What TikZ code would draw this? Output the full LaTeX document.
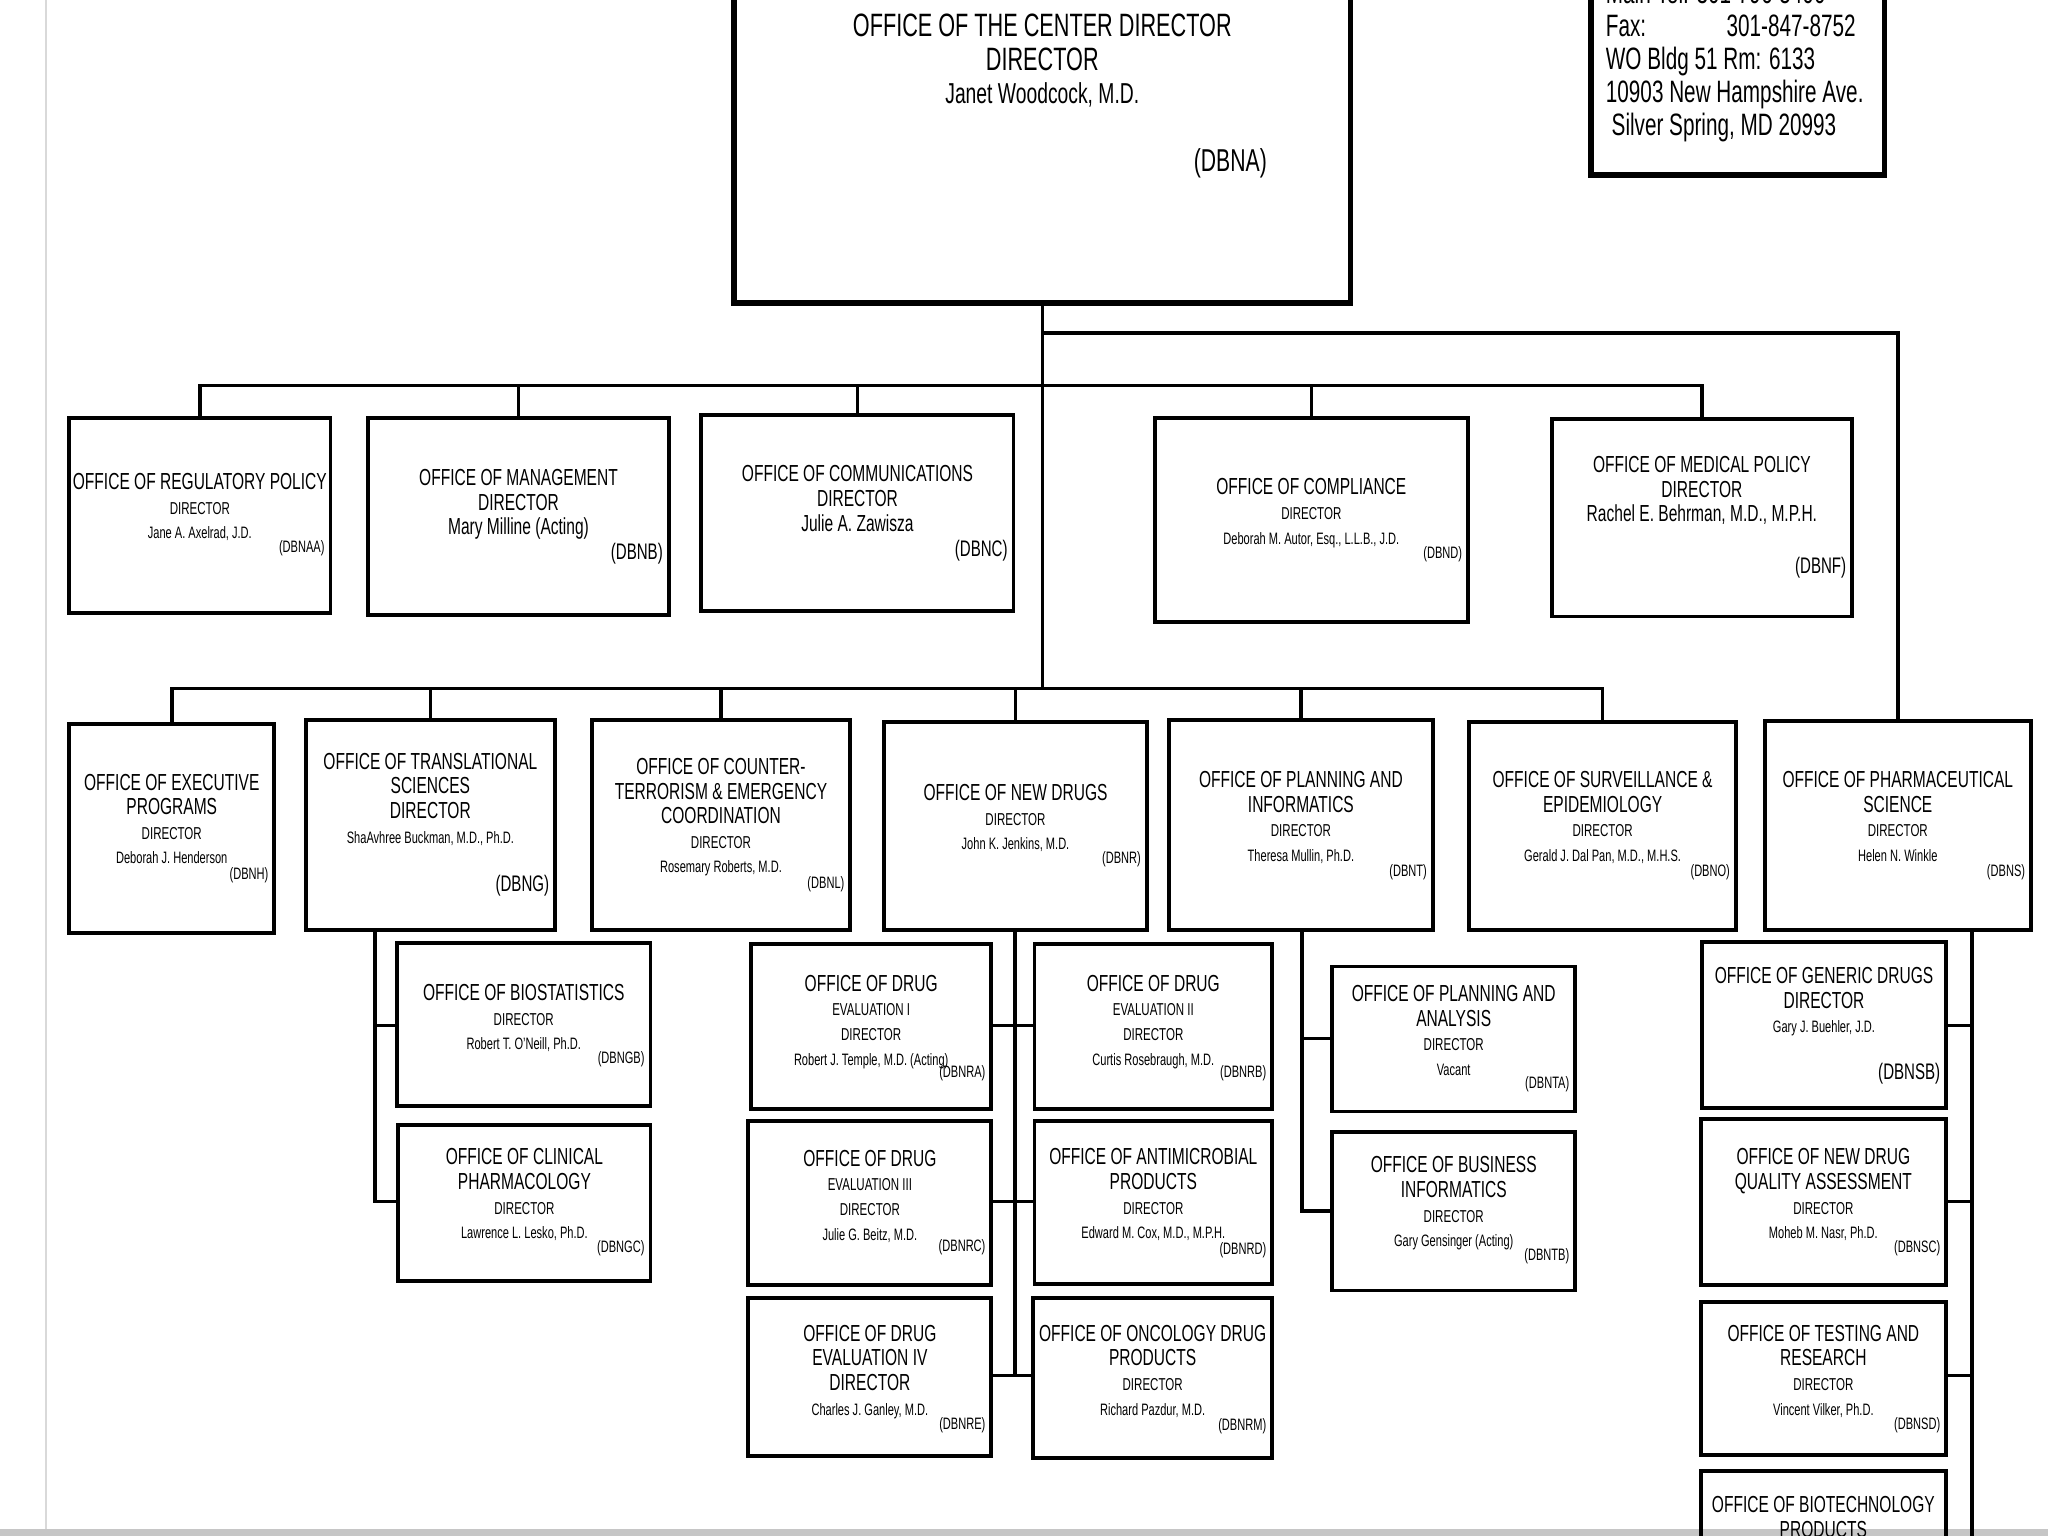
\documentclass[tikz,border=0pt]{standalone}
\usepackage{fontspec}
\setmainfont{Liberation Sans}[FakeStretch=0.67]
\usetikzlibrary{fit}
\newcommand{\T}{\fontsize{6.6}{7}\selectfont}
\newcommand{\Ds}{\fontsize{4.9}{6.4}\selectfont}
\newcommand{\Nm}{\fontsize{4.7}{6.4}\selectfont}
\newcommand{\Cs}{\fontsize{4.7}{6}\selectfont}
\newcommand{\Cb}{\fontsize{6.4}{7}\selectfont}
% \bx{name}{x1}{y1}{x2}{y2}{texttop}{text}{codey}{code}
\newcommand{\bx}[9]{%
  \node[box, fit={(#2,#3) (#4,#5)}] (#1) {};
  \node[txt, anchor=north] (#1-t) at ({(#2+#4)/2},#6) {#7};
  \node[code, anchor=east] (#1-c) at ({#4-4},#8) {#9};
}
\begin{document}
\begin{tikzpicture}[x=0.013061cm,y=-0.013061cm,
  box/.style={draw, line width=1.1pt, inner sep=0pt},
  txt/.style={align=center, inner sep=0pt, font=\T},
  code/.style={inner sep=0pt, font=\Cs},
  link/.style={line width=1pt}]
\useasboundingbox (0,0) rectangle (1568,1176);
\clip (0,0) rectangle (1568,1176);
\fill[gray!45] (0,1171) rectangle (1568,1176);
\draw[gray!30, line width=0.5pt] (35,0) -- (35,1171);

% center
\node[box, line width=1.5pt, fit={(562,-10) (1034,232)}] (ctr) {};
\node[txt, anchor=north, font=\fontsize{9.2}{9.6}\selectfont] (ctr-t) at (798,10)
  {OFFICE OF THE CENTER DIRECTOR\\DIRECTOR\\{\fontsize{8.2}{9.6}\selectfont Janet Woodcock, M.D.}};
\node[anchor=center, inner sep=0pt, font=\fontsize{9}{10}\selectfont] (ctr-c) at (942,125) {(DBNA)};

% address
\node[box, line width=1.5pt, fit={(1218,-10) (1443,134)}] (addr) {};
\node[anchor=north west, align=left, inner sep=0pt, font=\fontsize{8.8}{9.4}\selectfont] (addr-t) at (1229,-15)
  {Main Tel: 301-796-5400\\Fax:\hspace{2.6em}301-847-8752\\WO Bldg 51 Rm: 6133\\10903 New Hampshire Ave.\\\ Silver Spring, MD 20993};

% row 1
\bx{reg}{53}{320}{253}{469}{362}{OFFICE OF REGULATORY POLICY\\\Ds DIRECTOR\\\Nm Jane A. Axelrad, J.D.}{420}{(DBNAA)}
\bx{mgt}{282}{320}{512}{471}{359}{OFFICE OF MANAGEMENT\\DIRECTOR\\Mary Milline (Acting)}{424}{\Cb(DBNB)}
\bx{com}{537}{318}{776}{468}{356}{OFFICE OF COMMUNICATIONS\\DIRECTOR\\Julie A. Zawisza}{422}{\Cb(DBNC)}
\bx{cmp}{884}{320}{1124}{476}{366}{OFFICE OF COMPLIANCE\\\Ds DIRECTOR\\\Nm Deborah M. Autor, Esq., L.L.B., J.D.}{424}{(DBND)}
\bx{mpol}{1188}{321}{1418}{472}{349}{OFFICE OF MEDICAL POLICY\\DIRECTOR\\Rachel E. Behrman, M.D., M.P.H.}{435}{\Cb(DBNF)}

% row 2
\bx{exe}{53}{554}{210}{714}{592}{OFFICE OF EXECUTIVE\\PROGRAMS\\\Ds DIRECTOR\\\Nm Deborah J. Henderson}{670}{(DBNH)}
\bx{trn}{234}{551}{425}{712}{576}{OFFICE OF TRANSLATIONAL\\SCIENCES\\DIRECTOR\\\Nm ShaAvhree Buckman, M.D., Ph.D.}{678}{\Cb(DBNG)}
\bx{ctr2}{453}{551}{651}{712}{580}{OFFICE OF COUNTER-\\TERRORISM \& EMERGENCY\\COORDINATION\\\Ds DIRECTOR\\\Nm Rosemary Roberts, M.D.}{677}{(DBNL)}
\bx{nd}{677}{553}{878}{712}{600}{OFFICE OF NEW DRUGS\\\Ds DIRECTOR\\\Nm John K. Jenkins, M.D.}{658}{(DBNR)}
\bx{pli}{895}{551}{1097}{712}{590}{OFFICE OF PLANNING AND\\INFORMATICS\\\Ds DIRECTOR\\\Nm Theresa Mullin, Ph.D.}{668}{(DBNT)}
\bx{sur}{1125}{553}{1329}{712}{590}{OFFICE OF SURVEILLANCE \&\\EPIDEMIOLOGY\\\Ds DIRECTOR\\\Nm Gerald J. Dal Pan, M.D., M.H.S.}{668}{(DBNO)}
\bx{phs}{1351}{552}{1555}{712}{590}{OFFICE OF PHARMACEUTICAL\\SCIENCE\\\Ds DIRECTOR\\\Nm Helen N. Winkle}{668}{(DBNS)}

% translational children
\bx{bio}{304}{722}{498}{847}{753}{OFFICE OF BIOSTATISTICS\\\Ds DIRECTOR\\\Nm Robert T. O'Neill, Ph.D.}{811}{(DBNGB)}
\bx{clp}{305}{861}{498}{981}{879}{OFFICE OF CLINICAL\\PHARMACOLOGY\\\Ds DIRECTOR\\\Nm Lawrence L. Lesko, Ph.D.}{956}{(DBNGC)}

% new drugs children
\bx{ode1}{575}{723}{759}{849}{746}{OFFICE OF DRUG\\\Ds EVALUATION I\\\Ds DIRECTOR\\\Nm Robert J. Temple, M.D. (Acting)}{822}{(DBNRA)}
\bx{ode2}{792}{723}{974}{849}{746}{OFFICE OF DRUG\\\Ds EVALUATION II\\\Ds DIRECTOR\\\Nm Curtis Rosebraugh, M.D.}{822}{(DBNRB)}
\bx{ode3}{573}{858}{759}{984}{880}{OFFICE OF DRUG\\\Ds EVALUATION III\\\Ds DIRECTOR\\\Nm Julie G. Beitz, M.D.}{955}{(DBNRC)}
\bx{amp}{792}{858}{974}{983}{879}{OFFICE OF ANTIMICROBIAL\\PRODUCTS\\\Ds DIRECTOR\\\Nm Edward M. Cox, M.D., M.P.H.}{957}{(DBNRD)}
\bx{ode4}{573}{994}{759}{1115}{1014}{OFFICE OF DRUG\\EVALUATION IV\\DIRECTOR\\\Nm Charles J. Ganley, M.D.}{1091}{(DBNRE)}
\bx{onc}{791}{994}{974}{1116}{1014}{OFFICE OF ONCOLOGY DRUG\\PRODUCTS\\\Ds DIRECTOR\\\Nm Richard Pazdur, M.D.}{1092}{(DBNRM)}

% planning children
\bx{pa}{1020}{740}{1206}{851}{754}{OFFICE OF PLANNING AND\\ANALYSIS\\\Ds DIRECTOR\\\Nm Vacant}{830}{(DBNTA)}
\bx{bi}{1020}{867}{1206}{988}{885}{OFFICE OF BUSINESS\\INFORMATICS\\\Ds DIRECTOR\\\Nm Gary Gensinger (Acting)}{962}{(DBNTB)}

% pharm sci children
\bx{gen}{1303}{721}{1490}{848}{740}{OFFICE OF GENERIC DRUGS\\DIRECTOR\\\Nm Gary J. Buehler, J.D.}{822}{\Cb(DBNSB)}
\bx{ndq}{1302}{857}{1490}{984}{879}{OFFICE OF NEW DRUG\\QUALITY ASSESSMENT\\\Ds DIRECTOR\\\Nm Moheb M. Nasr, Ph.D.}{956}{(DBNSC)}
\bx{tst}{1302}{997}{1490}{1114}{1014}{OFFICE OF TESTING AND\\RESEARCH\\\Ds DIRECTOR\\\Nm Vincent Vilker, Ph.D.}{1091}{(DBNSD)}
\node[box, fit={(1302,1126) (1490,1200)}] (bt) {};
\node[txt, anchor=north] (bt-t) at (1396,1145) {OFFICE OF BIOTECHNOLOGY\\PRODUCTS};

% connectors
\draw[link] (ctr.south) -- (ctr.south |- 0,527);
\draw[link] (ctr.south |- 0,255) -| (phs.north);
\draw[link] (reg.north) |- (mpol.north |- 0,295) -- (mpol.north);
\foreach \n in {mgt,com,cmp} \draw[link] (\n.north) -- (\n.north |- 0,295);
\draw[link] (exe.north) |- (sur.north |- 0,527) -- (sur.north);
\foreach \n in {trn,ctr2,nd,pli} \draw[link] (\n.north) -- (\n.north |- 0,527);
% translational
\draw[link] (trn.south -| 287,0) |- (clp.west |- 0,920);
\draw[link] (287,785) -- (bio.west |- 0,785);
% new drugs
\draw[link] (nd.south -| 777,0) -- (777,1053);
\draw[link] (ode1.east |- 0,785) -- (ode2.west |- 0,785);
\draw[link] (ode3.east |- 0,920) -- (amp.west |- 0,920);
\draw[link] (ode4.east |- 0,1053) -- (onc.west |- 0,1053);
% planning
\draw[link] (pli.south -| 997,0) |- (bi.west |- 0,927);
\draw[link] (997,795) -- (pa.west |- 0,795);
% pharm sci
\draw[link] (phs.south -| 1510,0) -- (1510,1176);
\draw[link] (gen.east |- 0,785) -- (1510,785);
\draw[link] (ndq.east |- 0,920) -- (1510,920);
\draw[link] (tst.east |- 0,1053) -- (1510,1053);
\end{tikzpicture}
\end{document}
